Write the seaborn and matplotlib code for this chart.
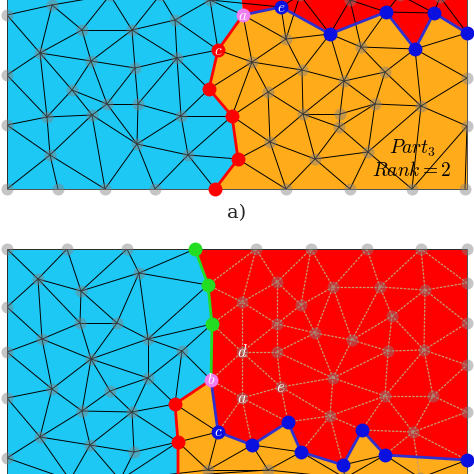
import numpy as np
import matplotlib
matplotlib.use("Agg")
import matplotlib.pyplot as plt
import matplotlib.tri as mtri
from matplotlib.path import Path
from matplotlib.patches import Rectangle
import seaborn as sns

sns.set_style("white")
plt.rcParams['mathtext.fontset'] = 'cm'

# ---- panel a (top), pixel coords ----
top_nodes = [(7, 189), (58, 189), (105, 189), (155, 189), (286, 189), (350, 189), (412, 189), (465, 189),
             (7, 15), (7, 75), (7, 125), (467, 78), (467, 126),
             (52, 5), (82, 30), (132, 30), (175, 20), (40, 53), (91, 61), (135, 68), (177, 58),
             (72, 90), (107, 104), (138, 104), (47, 117), (92, 115), (137, 144), (181, 116),
             (50, 155), (188, 155), (110, -5), (160, -5), (210, 0),
             (252, 62), (286, 39), (302, 70), (344, 81), (361, 47), (385, 72), (268, 92), (303, 114),
             (340, 114), (375, 104), (421, 106), (270, 142), (315, 159), (368, 152), (339, 127),
             (300, -5), (350, 0), (400, -5), (440, -3)]
top_red_line = [(243, 15), (218, 50), (209, 89), (232, 116), (238, 159), (215, 189)]
top_blue_line = [(243, 15), (281, 7), (330, 34), (386, 12), (415, 49), (434, 13), (467, 33)]
top_blue_poly = [(7, -10), (241, -10)] + top_red_line + [(7, 189)]
top_orange_poly = top_blue_line + [(467, 189)] + top_red_line[::-1]
top_red_poly = [(241, -10), (467, -10)] + top_blue_line[::-1]

# ---- panel b (bottom) ----
bot_nodes = [(7, 249), (67, 249), (127, 249), (256, 249), (311, 249), (367, 249), (421, 249), (467, 249),
             (7, 307), (7, 352), (7, 398), (7, 458), (467, 283), (467, 323), (467, 365), (467, 412),
             (38, 279), (81, 291), (139, 273), (80, 323), (117, 323), (42, 339), (148, 339), (91, 359),
             (182, 351), (148, 378), (52, 389), (110, 391), (82, 411), (132, 412), (40, 437), (90, 445),
             (134, 452), (70, 480), (120, 480),
             (277, 282), (242, 302), (301, 305), (333, 287), (380, 287), (425, 290), (277, 324), (315, 333),
             (392, 316), (352, 340), (424, 350), (242, 352), (277, 352), (388, 351), (333, 378), (281, 387),
             (242, 398), (385, 396), (433, 396), (330, 416), (413, 432),
             (208, 470), (268, 470), (345, 478), (420, 478)]
green_line = [(195, 249), (208, 285), (212, 324), (211, 380)]
bot_red_line = [(211, 380), (175, 404), (178, 442), (178, 480)]
bot_blue_line = [(211, 380), (218, 432), (252, 445), (288, 422), (301, 452), (343, 465), (362, 430),
                 (385, 455), (467, 460)]
bot_blue_poly = [(7, 249)] + green_line + bot_red_line + [(7, 480)]
bot_red_poly = [(467, 249)] + green_line + bot_blue_line[1:]
bot_orange_poly = bot_blue_line + [(467, 480)] + bot_red_line[::-1]

BLUE, ORANGE, RED = "#1ec8f5", "#ffab1a", "#ff0000"

fig = plt.figure(figsize=(4.74, 4.74), dpi=100)
ax = fig.add_axes([0, 0, 1, 1])
ax.set_xlim(0, 474)
ax.set_ylim(474, 0)
ax.axis("off")


def panel(nodes, extra, polys, rect, dashed_poly, lines, dots):
    clip = Rectangle((rect[0], rect[1]), rect[2] - rect[0], rect[3] - rect[1], transform=ax.transData)
    for pts, c in polys:
        p = np.array(pts)
        f, = ax.fill(p[:, 0], p[:, 1], color=c, lw=0)
        f.set_clip_path(clip)
    allp = np.array(nodes + extra, float)
    tri = mtri.Triangulation(allp[:, 0], allp[:, 1])
    dpath = Path(np.array(dashed_poly)) if dashed_poly else None
    for a, b in tri.edges:
        x0, y0 = allp[a]
        x1, y1 = allp[b]
        mid = ((x0 + x1) / 2, (y0 + y1) / 2)
        if dpath is not None and dpath.contains_point(mid):
            l, = ax.plot([x0, x1], [y0, y1], color="#c89a70", lw=0.9, ls=(0, (2, 1)))
        else:
            l, = ax.plot([x0, x1], [y0, y1], color="black", lw=0.7)
        l.set_clip_path(clip)
    ax.plot([rect[0], rect[2], rect[2], rect[0], rect[0]],
            [rect[1], rect[1], rect[3], rect[3], rect[1]], color="#333333", lw=0.6)
    npn = np.array(nodes, float)
    ax.scatter(npn[:, 0], npn[:, 1], s=75, color="gray", alpha=0.45, lw=0, zorder=3)
    for pts, c in lines:
        p = np.array(pts)
        ax.plot(p[:, 0], p[:, 1], color=c, lw=2, zorder=4)
    for (x, y), c, lab in dots:
        ax.scatter([x], [y], s=100, color=c, zorder=5, lw=0)
        if lab:
            ax.text(x, y, "$" + lab + "$", color="white", fontsize=11, ha="center", va="center", zorder=6)


top_extra = top_red_line + top_blue_line[1:]
panel(top_nodes, top_extra,
      [(top_blue_poly, BLUE), (top_orange_poly, ORANGE), (top_red_poly, RED)],
      (7, -5, 467, 189), None,
      [(top_red_line, "red"), (top_blue_line, "#3030d0")],
      [((243, 15), "#f07ef0", "a"), ((218, 50), "red", "c"), ((209, 89), "red", ""),
       ((232, 116), "red", ""), ((238, 159), "red", ""), ((215, 189), "red", ""),
       ((281, 7), "#0a10e0", "e"), ((330, 34), "#0a10e0", ""), ((386, 12), "#0a10e0", ""),
       ((415, 49), "#0a10e0", ""), ((434, 13), "#0a10e0", ""), ((467, 33), "#0a10e0", "")])

bot_extra = green_line + bot_red_line[1:3] + bot_blue_line[1:]
panel(bot_nodes, bot_extra,
      [(bot_blue_poly, BLUE), (bot_red_poly, RED), (bot_orange_poly, ORANGE)],
      (7, 249, 467, 480), bot_red_poly,
      [(green_line, "#22dd22"), (bot_red_line, "red"), (bot_blue_line, "#3030d0")],
      [((195, 249), "#22dd22", ""), ((208, 285), "#22dd22", ""), ((212, 324), "#22dd22", ""),
       ((211, 380), "#f07ef0", "b"), ((175, 404), "red", ""), ((178, 442), "red", ""),
       ((218, 432), "#0a10e0", "c"), ((252, 445), "#0a10e0", ""), ((288, 422), "#0a10e0", ""),
       ((301, 452), "#0a10e0", ""), ((343, 465), "#0a10e0", ""), ((362, 430), "#0a10e0", ""),
       ((385, 455), "#0a10e0", ""), ((467, 460), "#0a10e0", "")])

for (x, y), lab in [((242, 352), "d"), ((281, 387), "e"), ((242, 398), "a")]:
    ax.text(x, y, "$" + lab + "$", color="white", fontsize=12, ha="center", va="center", zorder=6)

ax.text(412, 148, "$Part_3$", fontsize=14, color="black", ha="center", va="center", zorder=6)
ax.text(412, 170, "$Rank=2$", fontsize=14, color="black", ha="center", va="center", zorder=6)
ax.text(237, 213, "a)", fontsize=14, family="DejaVu Serif", ha="center", va="center")

fig.savefig("out.png", dpi=100)
